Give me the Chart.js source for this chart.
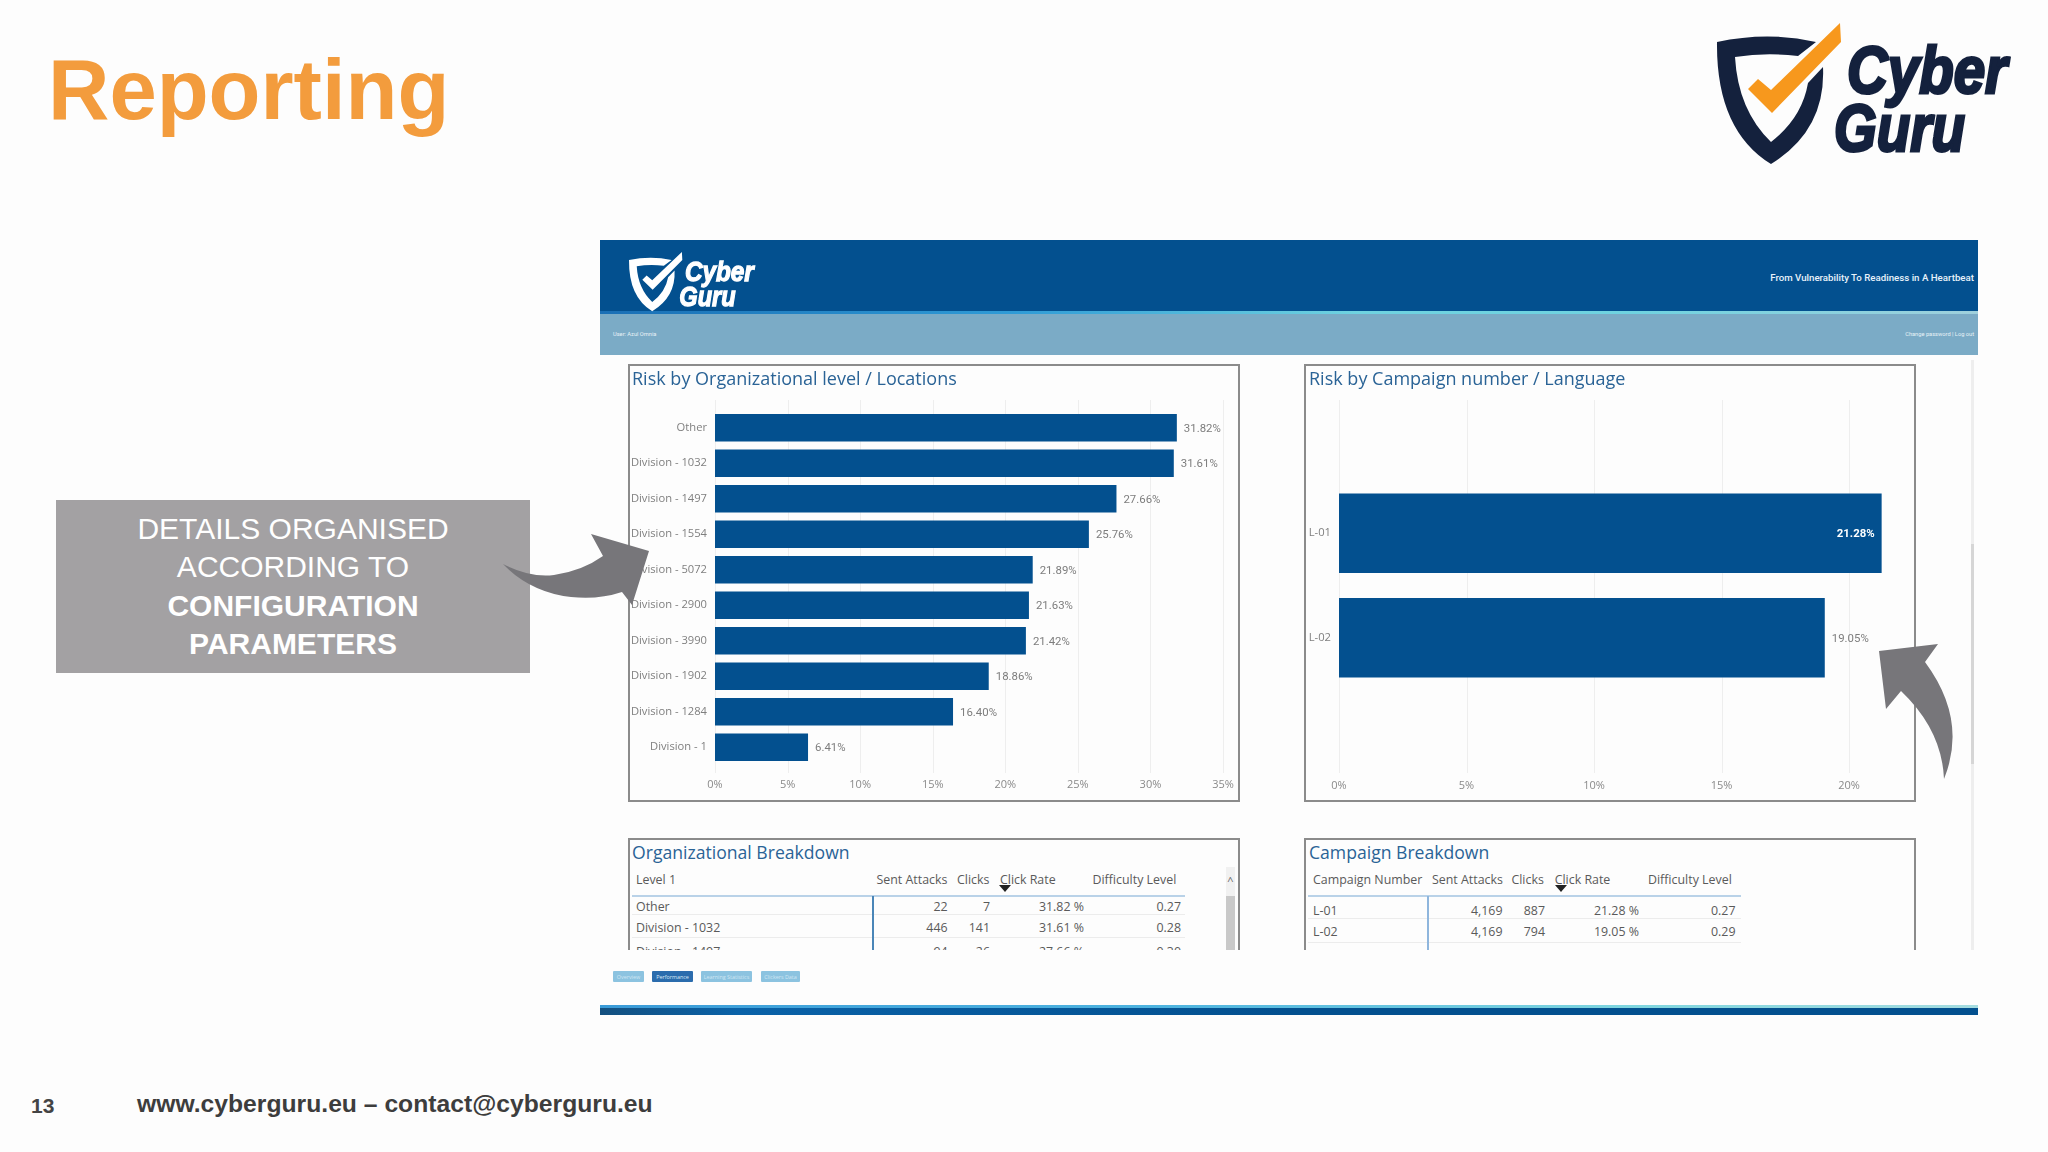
<!DOCTYPE html>
<html>
<head>
<meta charset="utf-8">
<title>Reporting</title>
<script src="https://cdn.jsdelivr.net/npm/chart.js@4"></script>
<style>
  html, body { margin: 0; padding: 0; background: #fdfdfd; }
  #slide { position: relative; width: 2048px; height: 1152px; overflow: hidden; background: #fdfdfd; font-family: "Open Sans", sans-serif; }
  .box { position: absolute; box-sizing: border-box; }
  .txt { position: absolute; white-space: nowrap; line-height: 1; }
  canvas { position: absolute; }
  svg { position: absolute; left: 0; top: 0; }
</style>
</head>
<body>
<div id="slide">
  <canvas id="chartOrg" width="612" height="438" style="left:628px;top:364px"></canvas>
  <canvas id="chartCampaign" width="612" height="438" style="left:1304px;top:364px"></canvas>
  <svg width="2048" height="1152" viewBox="0 0 2048 1152">
    <defs>
      <g id="logoMark">
        <path fill="currentColor" d="M1717,42 Q1768,31 1816,42 L1798,56 Q1766,52 1735,57 Q1738,110 1771,142 Q1802,118 1808,83 L1823,67 Q1826,130 1771,164 Q1716,130 1717,42 Z"/>
        <polygon style="fill:var(--check)" points="1748,89 1758,79 1771,90 1840,23 1841,42 1772,113"/>
        <text x="1847" y="93" textLength="160" lengthAdjust="spacingAndGlyphs" fill="currentColor" stroke="currentColor" stroke-width="3" font-family="Liberation Sans Narrow, Liberation Sans" font-weight="700" font-style="italic" font-size="66">Cyber</text>
        <text x="1834" y="151" textLength="131" lengthAdjust="spacingAndGlyphs" fill="currentColor" stroke="currentColor" stroke-width="3" font-family="Liberation Sans Narrow, Liberation Sans" font-weight="700" font-style="italic" font-size="66">Guru</text>
      </g>
    </defs>
  </svg>
</div>

<script>
// chart values
const orgLabels = ["Other", "Division - 1032", "Division - 1497", "Division - 1554", "Division - 5072", "Division - 2900", "Division - 3990", "Division - 1902", "Division - 1284", "Division - 1"];
const orgValues = [31.82, 31.61, 27.66, 25.76, 21.89, 21.63, 21.42, 18.86, 16.40, 6.41];
const orgTicks = [0, 5, 10, 15, 20, 25, 30, 35];

const campaignLabels = ["L-01", "L-02"];
const campaignValues = [21.28, 19.05];
const campaignTicks = [0, 5, 10, 15, 20];

// table rows
const orgHeaders = ["Level 1", "Sent Attacks", "Clicks", "Click Rate", "Difficulty Level"];
const orgSent = ["22", "446", "94"];
const orgClicks = ["7", "141", "26"];
const orgRates = ["31.82 %", "31.61 %", "27.66 %"];
const orgDifficulty = ["0.27", "0.28", "0.30"];

const campaignHeaders = ["Campaign Number", "Sent Attacks", "Clicks", "Click Rate", "Difficulty Level"];
const campaignSent = ["4,169", "4,169"];
const campaignClicks = ["887", "794"];
const campaignRates = ["21.28 %", "19.05 %"];
const campaignDifficulty = ["0.27", "0.29"];

const tabLabels = ["Overview", "Performance", "Learning Statistics", "Clickers Data"];

const BLUE = "#03508f";
const slide = document.getElementById("slide");
const overlay = document.querySelector("svg");

function box(x, y, w, h, css, parent) {
  const el = document.createElement("div");
  el.className = "box";
  el.style.cssText = `left:${x}px;top:${y}px;width:${w}px;height:${h}px;${css || ""}`;
  (parent || slide).insertBefore(el, (parent || slide) === slide ? overlay : null);
  return el;
}

// x is the left edge, or the right edge with align "right", or centre with "center"; y is the text middle
function put(text, x, y, font, color, align, parent) {
  const el = document.createElement("div");
  el.className = "txt";
  el.textContent = text;
  const tx = align === "right" ? "-100%" : align === "center" ? "-50%" : "0";
  el.style.cssText = `left:${x}px;top:${y}px;font:${font};color:${color};transform:translate(${tx},-50%);`;
  (parent || slide).insertBefore(el, (parent || slide) === slide ? overlay : null);
  return el;
}

/* ---------- slide furniture ---------- */
put("Reporting", 48, 90, "700 85px 'Liberation Sans'", "#f39c3d");
put("13", 31, 1106, "700 21px 'Liberation Sans'", "#444444");
put("www.cyberguru.eu – contact@cyberguru.eu", 137, 1104, "700 24.7px 'Liberation Sans'", "#3d3d3d");

box(56, 500, 474, 173, "background:#a3a1a3");
put("DETAILS ORGANISED", 293, 529, "400 30px 'Liberation Sans'", "#ffffff", "center");
put("ACCORDING TO", 293, 567, "400 30px 'Liberation Sans'", "#ffffff", "center");
put("CONFIGURATION", 293, 606, "700 30px 'Liberation Sans'", "#ffffff", "center");
put("PARAMETERS", 293, 644, "700 30px 'Liberation Sans'", "#ffffff", "center");

/* ---------- dashboard header ---------- */
box(600, 240, 1378, 71, `background:${BLUE}`);
box(600, 311, 1378, 3, "background:linear-gradient(90deg,#1a6fb5 0%,#2f9bd6 30%,#6fd3e0 55%,#6fd3e0 75%,#9fd0dc 100%)");
box(600, 314, 1378, 41, "background:#7babc6");
put("From Vulnerability To Readiness in A Heartbeat", 1974, 277, "500 9.7px Roboto", "#e8f2fa", "right");
put("Change password  |  Log out", 1974, 334, "400 5.7px Roboto", "#e8f2f7", "right");
put("User: Azul Omnia", 613, 334, "400 5.7px Roboto", "#e8f2f7");

// page scrollbar
box(1971, 360, 3, 590, "background:#eeeeee");
box(1971, 544, 3, 220, "background:#d6d6d6");

/* ---------- chart frames ---------- */
box(628, 364, 612, 438, "border:2px solid #8b8b8b");
box(1304, 364, 612, 438, "border:2px solid #8b8b8b");
put("Risk by Organizational level / Locations", 632, 378, "400 18px 'Open Sans'", "#2a6396");
put("Risk by Campaign number / Language", 1309, 378, "400 18px 'Open Sans'", "#2a6396");

/* ---------- tables ---------- */
function drawTable(opts) {
  const clip = box(opts.x, 838, 612, 112, "overflow:hidden");
  box(0, 0, 612, 130, "border:2px solid #8b8b8b", clip);
  const ox = opts.x, oy = 838;
  const f = "400 12.4px 'Open Sans'", c = "#5a5a5a";
  put(opts.title, opts.titleX - ox, 852 - oy, "400 17.6px 'Open Sans'", "#2a6396", "left", clip);
  opts.headers.forEach((h, i) => put(h, opts.headerX[i] - ox, 879 - oy, f, c, "left", clip));
  // sort arrow under Click Rate
  box(opts.arrowX - 6 - ox, 885 - oy, 0, 0, "border-left:6px solid transparent;border-right:6px solid transparent;border-top:7px solid #222", clip);
  box(opts.lineX[0] - ox, 895 - oy, opts.lineX[1] - opts.lineX[0], 2, "background:#b9d2e8", clip);
  opts.rowLines.forEach(y => box(opts.lineX[0] - ox, y - oy, opts.lineX[1] - opts.lineX[0], 1, "background:#ececec", clip));
  box(opts.sepX - ox, 896 - oy, 2, 60, `background:${opts.sepColor}`, clip);
  opts.rowY.forEach((y, r) => {
    if (opts.names[r]) put(opts.names[r], opts.headerX[0] - ox, y - oy, f, c, "left", clip);
    opts.cols.forEach((col, i) => put(col[r], opts.colX[i] - ox, y - oy, f, c, "right", clip));
  });
  return clip;
}

const orgClip = drawTable({
  x: 628, title: "Organizational Breakdown", titleX: 632,
  headers: orgHeaders, headerX: [636, 876.5, 957, 1000, 1092.5], arrowX: 1005,
  lineX: [632, 1185], sepX: 872, sepColor: "#4a86b8",
  rowLines: [914, 937], rowY: [906, 927, 951],
  names: orgLabels.slice(0, 3), cols: [orgSent, orgClicks, orgRates, orgDifficulty],
  colX: [947.6, 990, 1084, 1181]
});
// small scrollbar of the left table
box(1226 - 628, 867 - 838, 9, 83, "background:#f1f1f1", orgClip);
box(1226 - 628, 896 - 838, 9, 54, "background:#c9c9c9", orgClip);
put("^", 1230.5 - 628, 880 - 838, "400 11px 'Open Sans'", "#666666", "center", orgClip);

drawTable({
  x: 1304, title: "Campaign Breakdown", titleX: 1309,
  headers: campaignHeaders, headerX: [1313, 1432, 1511.4, 1554.7, 1648], arrowX: 1560.5,
  lineX: [1308, 1741], sepX: 1427, sepColor: "#8fb6dd",
  rowLines: [918, 942], rowY: [910, 931],
  names: campaignLabels, cols: [campaignSent, campaignClicks, campaignRates, campaignDifficulty],
  colX: [1502.5, 1545, 1639, 1735.5]
});

/* ---------- tabs and bottom bar ---------- */
const tabX = [[613, 644], [652, 693], [701, 752], [761, 800]];
tabLabels.forEach((t, i) => {
  const on = i === 1;
  box(tabX[i][0], 971, tabX[i][1] - tabX[i][0], 11, `border-radius:1px;background:${on ? "#2b6cad" : "#8cc3e0"}`);
  put(t, (tabX[i][0] + tabX[i][1]) / 2, 976.5, "400 5.4px 'Open Sans'", on ? "#dcebf7" : "#cfe6f3", "center");
});
box(600, 1005, 1378, 3, "background:linear-gradient(90deg,#3a9bd8 0%,#4db3df 40%,#7fd6df 75%,#a5dce0 100%)");
box(600, 1008, 1378, 7, "background:linear-gradient(90deg,#14507f 0%,#0a62a8 10%,#03508f 50%,#03508f 100%)");

/* ---------- logos and arrows ---------- */
overlay.insertAdjacentHTML("beforeend", `
  <use href="#logoMark" style="color:#14213d;--check:#f7981d"/>
  <use href="#logoMark" transform="translate(629 252) scale(0.43 0.42) translate(-1717 -23)" style="color:#ffffff;--check:#ffffff"/>
  <path fill="#77767a" d="M503,564 Q530,578 554,575 Q582,571 603,556 L591,534 L649,551 L632,605 L622,592 Q598,600 571,597 Q530,592 503,564 Z"/>
  <path fill="#77767a" d="M1879,651 L1938,644 L1925,662 Q1968,720 1944,779 Q1942,730 1901,691 L1886,709 Z"/>
`);

/* ---------- Chart.js ---------- */
// grid lines run past the bars, so they are drawn from the x scale by hand
const tallGrid = {
  id: "tallGrid",
  beforeDatasetsDraw(chart, args, opts) {
    const { ctx, scales: { x } } = chart;
    ctx.save();
    ctx.strokeStyle = "#eeeeee";
    ctx.lineWidth = 1;
    x.ticks.forEach(t => {
      const px = Math.round(x.getPixelForValue(t.value)) + 0.5;
      ctx.beginPath();
      ctx.moveTo(px, opts.top);
      ctx.lineTo(px, opts.bottom);
      ctx.stroke();
    });
    ctx.restore();
  }
};

// percentage beside each bar, inside when it would not fit
const barValues = {
  id: "barValues",
  afterDatasetsDraw(chart, args, opts) {
    const { ctx } = chart;
    const values = chart.data.datasets[0].data;
    ctx.save();
    ctx.textBaseline = "middle";
    chart.getDatasetMeta(0).data.forEach((bar, i) => {
      const inside = opts.inside.includes(i);
      ctx.font = inside ? opts.insideFont : opts.font;
      ctx.fillStyle = inside ? "#ffffff" : "#7d7d7d";
      ctx.textAlign = inside ? "right" : "left";
      ctx.fillText(values[i].toFixed(2) + "%", bar.x + (inside ? -7 : 7), bar.y + 1);
    });
    ctx.restore();
  }
};

function drawBars(id, labels, values, ticks, opts) {
  new Chart(document.getElementById(id), {
    type: "bar",
    data: {
      labels: labels,
      datasets: [{ data: values, backgroundColor: BLUE, borderWidth: 0, barPercentage: opts.barPercentage, categoryPercentage: 1 }]
    },
    plugins: [tallGrid, barValues],
    options: {
      indexAxis: "y",
      responsive: false,
      animation: false,
      layout: { padding: opts.padding },
      plugins: {
        legend: { display: false },
        tooltip: { enabled: false },
        tallGrid: { top: opts.gridTop, bottom: opts.gridBottom },
        barValues: { font: "400 11.4px Roboto", insideFont: "700 11.4px Roboto", inside: opts.inside }
      },
      scales: {
        x: {
          min: 0,
          max: opts.max,
          // tickLength pushes the labels down without widening the side padding the way ticks.padding does
          grid: { display: false, tickLength: opts.tickPad },
          border: { display: false },
          afterFit: s => { s.height = opts.axisHeight; },
          afterBuildTicks: s => { s.ticks = ticks.map(v => ({ value: v })); },
          ticks: { padding: 0, color: "#8a8a8a", font: { family: "Open Sans", size: 11 }, maxRotation: 0, callback: v => v + "%" }
        },
        y: {
          grid: { display: false, drawTicks: false },
          border: { display: false },
          afterFit: s => { s.width = opts.axisWidth; },
          ticks: { padding: 8, color: "#7f7f7f", font: { family: "Open Sans", size: 11.2 } }
        }
      }
    }
  });
}

drawBars("chartOrg", orgLabels, orgValues, orgTicks, {
  max: 35, barPercentage: 0.78, padding: { top: 46, right: 17, bottom: 0, left: 0 },
  axisWidth: 87, axisHeight: 37, tickPad: 13, gridTop: 36, gridBottom: 409, inside: []
});
drawBars("chartCampaign", campaignLabels, campaignValues, campaignTicks, {
  max: 22, barPercentage: 0.76, padding: { top: 117, right: 16, bottom: 0, left: 0 },
  axisWidth: 35, axisHeight: 112, tickPad: 89, gridTop: 36, gridBottom: 409, inside: [0]
});
</script>
</body>
</html>
